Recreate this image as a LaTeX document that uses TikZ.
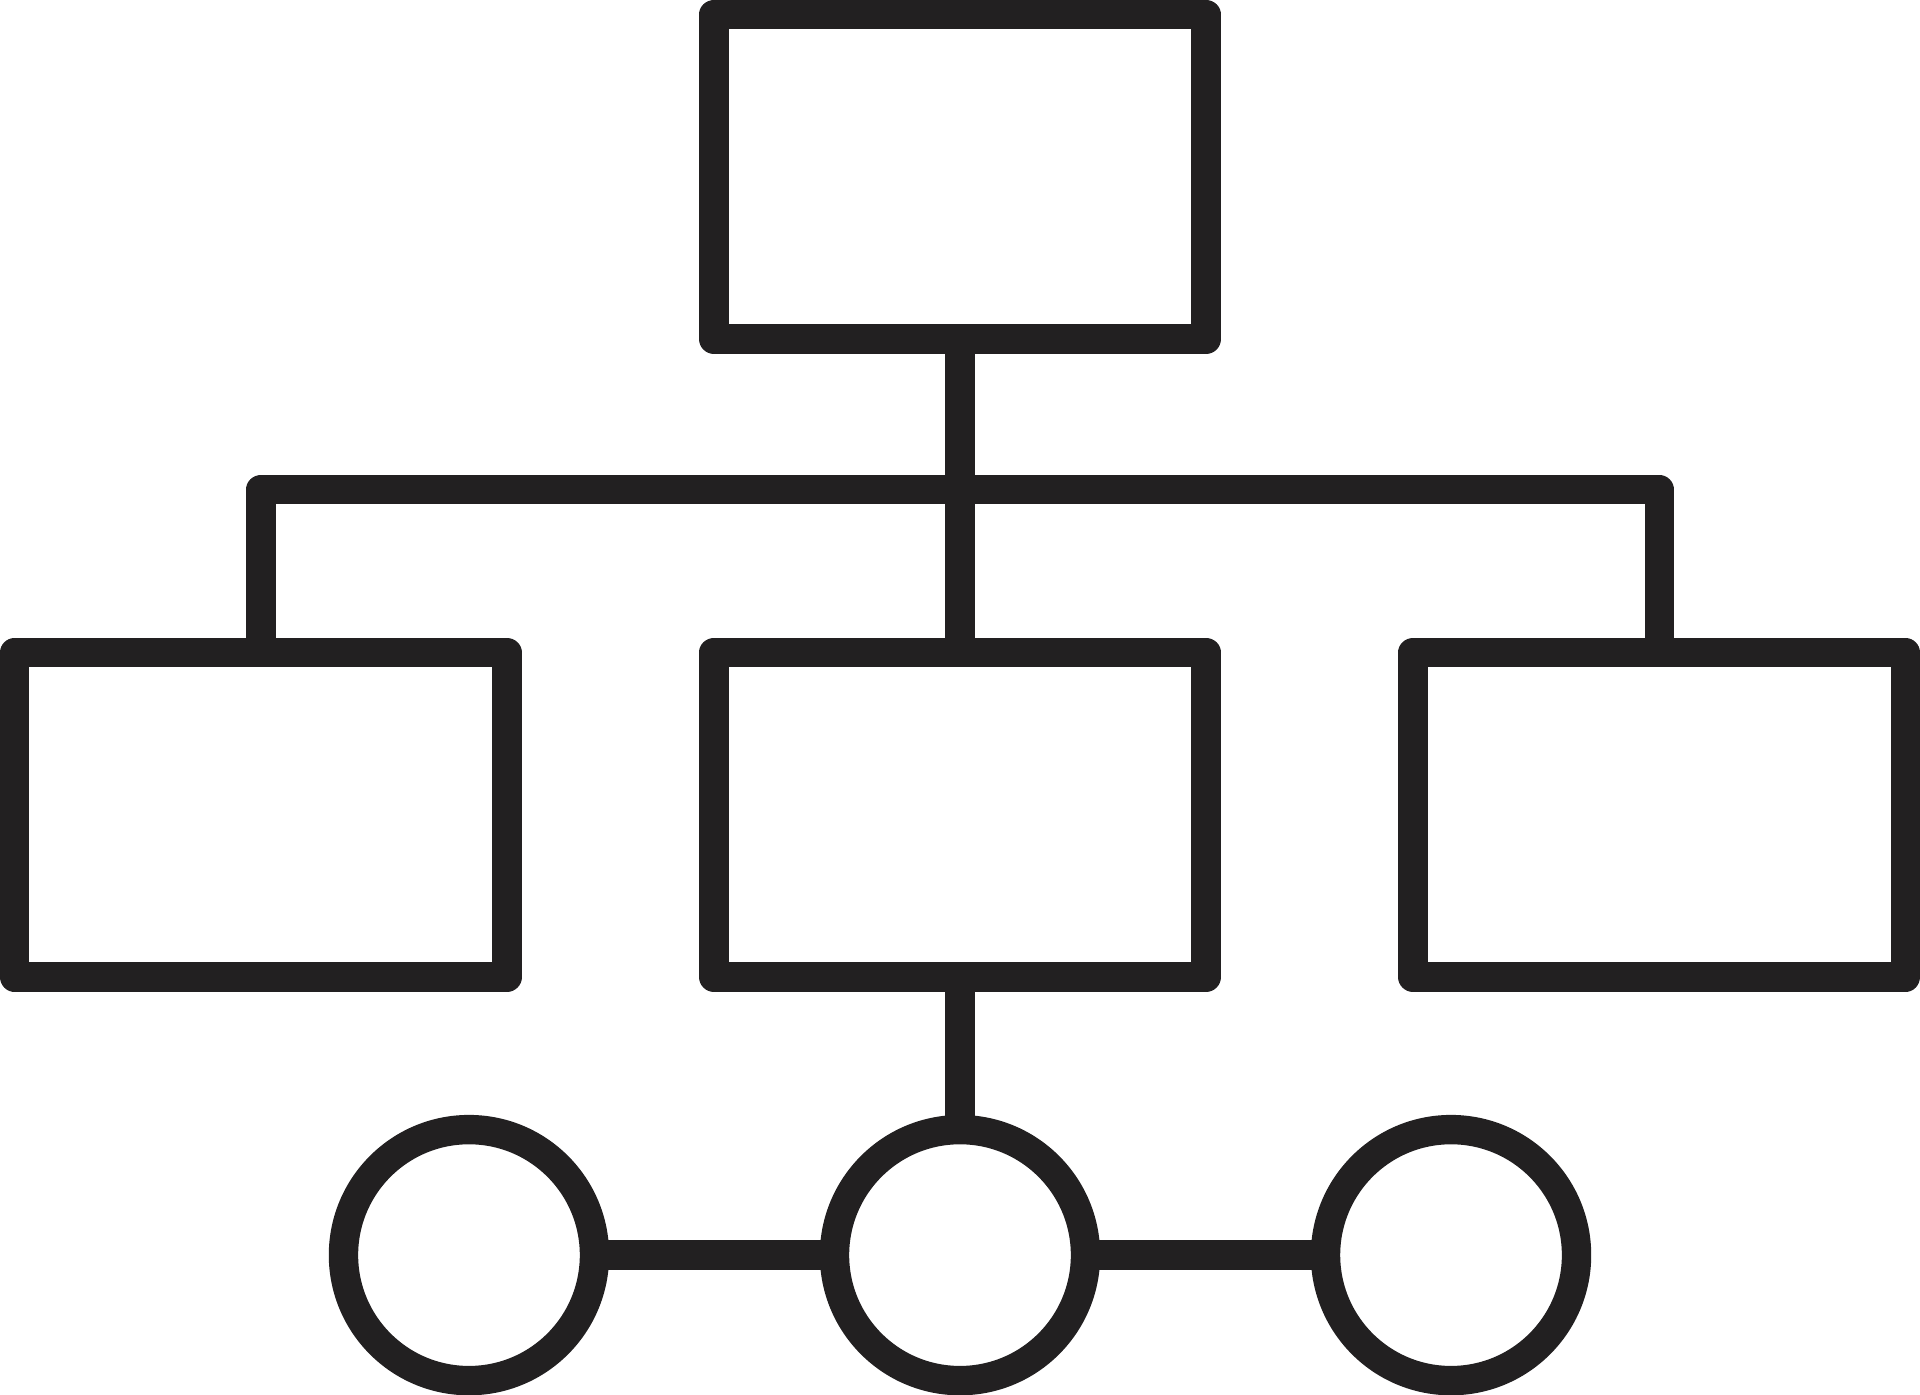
\documentclass[tikz,border=0pt]{standalone}
\begin{document}
\definecolor{ink}{RGB}{34,32,33}
\begin{tikzpicture}[x=0.5pt,y=-0.5pt,
  ln/.style={line width=12pt, draw=ink, line join=round},
  box/.style={draw=ink, line width=12pt, line join=round, rectangle, minimum width=201pt, minimum height=132.5pt, inner sep=0pt, outer sep=0pt},
  ring/.style={draw=ink, line width=12pt, circle, minimum size=102.5pt, inner sep=0pt, outer sep=0pt}]
\useasboundingbox (0,0) rectangle (1568,1139);
\node[box] (top) at (784,144.5) {};
\node[box] (left) at (213,665.5) {};
\node[box] (mid) at (784,665.5) {};
\node[box] (right) at (1355,665.5) {};
\node[ring] (c1) at (383,1025) {};
\node[ring] (c2) at (784,1025) {};
\node[ring] (c3) at (1185,1025) {};
\coordinate (bar) at (784,400);
\draw[ln] (top.south) -- (mid.north);
\draw[ln] (left.north) |- (bar) -| (right.north);
\draw[ln] (mid.south) -- (c2.north);
\draw[ln] (c1.east) -- (c2.west);
\draw[ln] (c2.east) -- (c3.west);
\end{tikzpicture}
\end{document}
